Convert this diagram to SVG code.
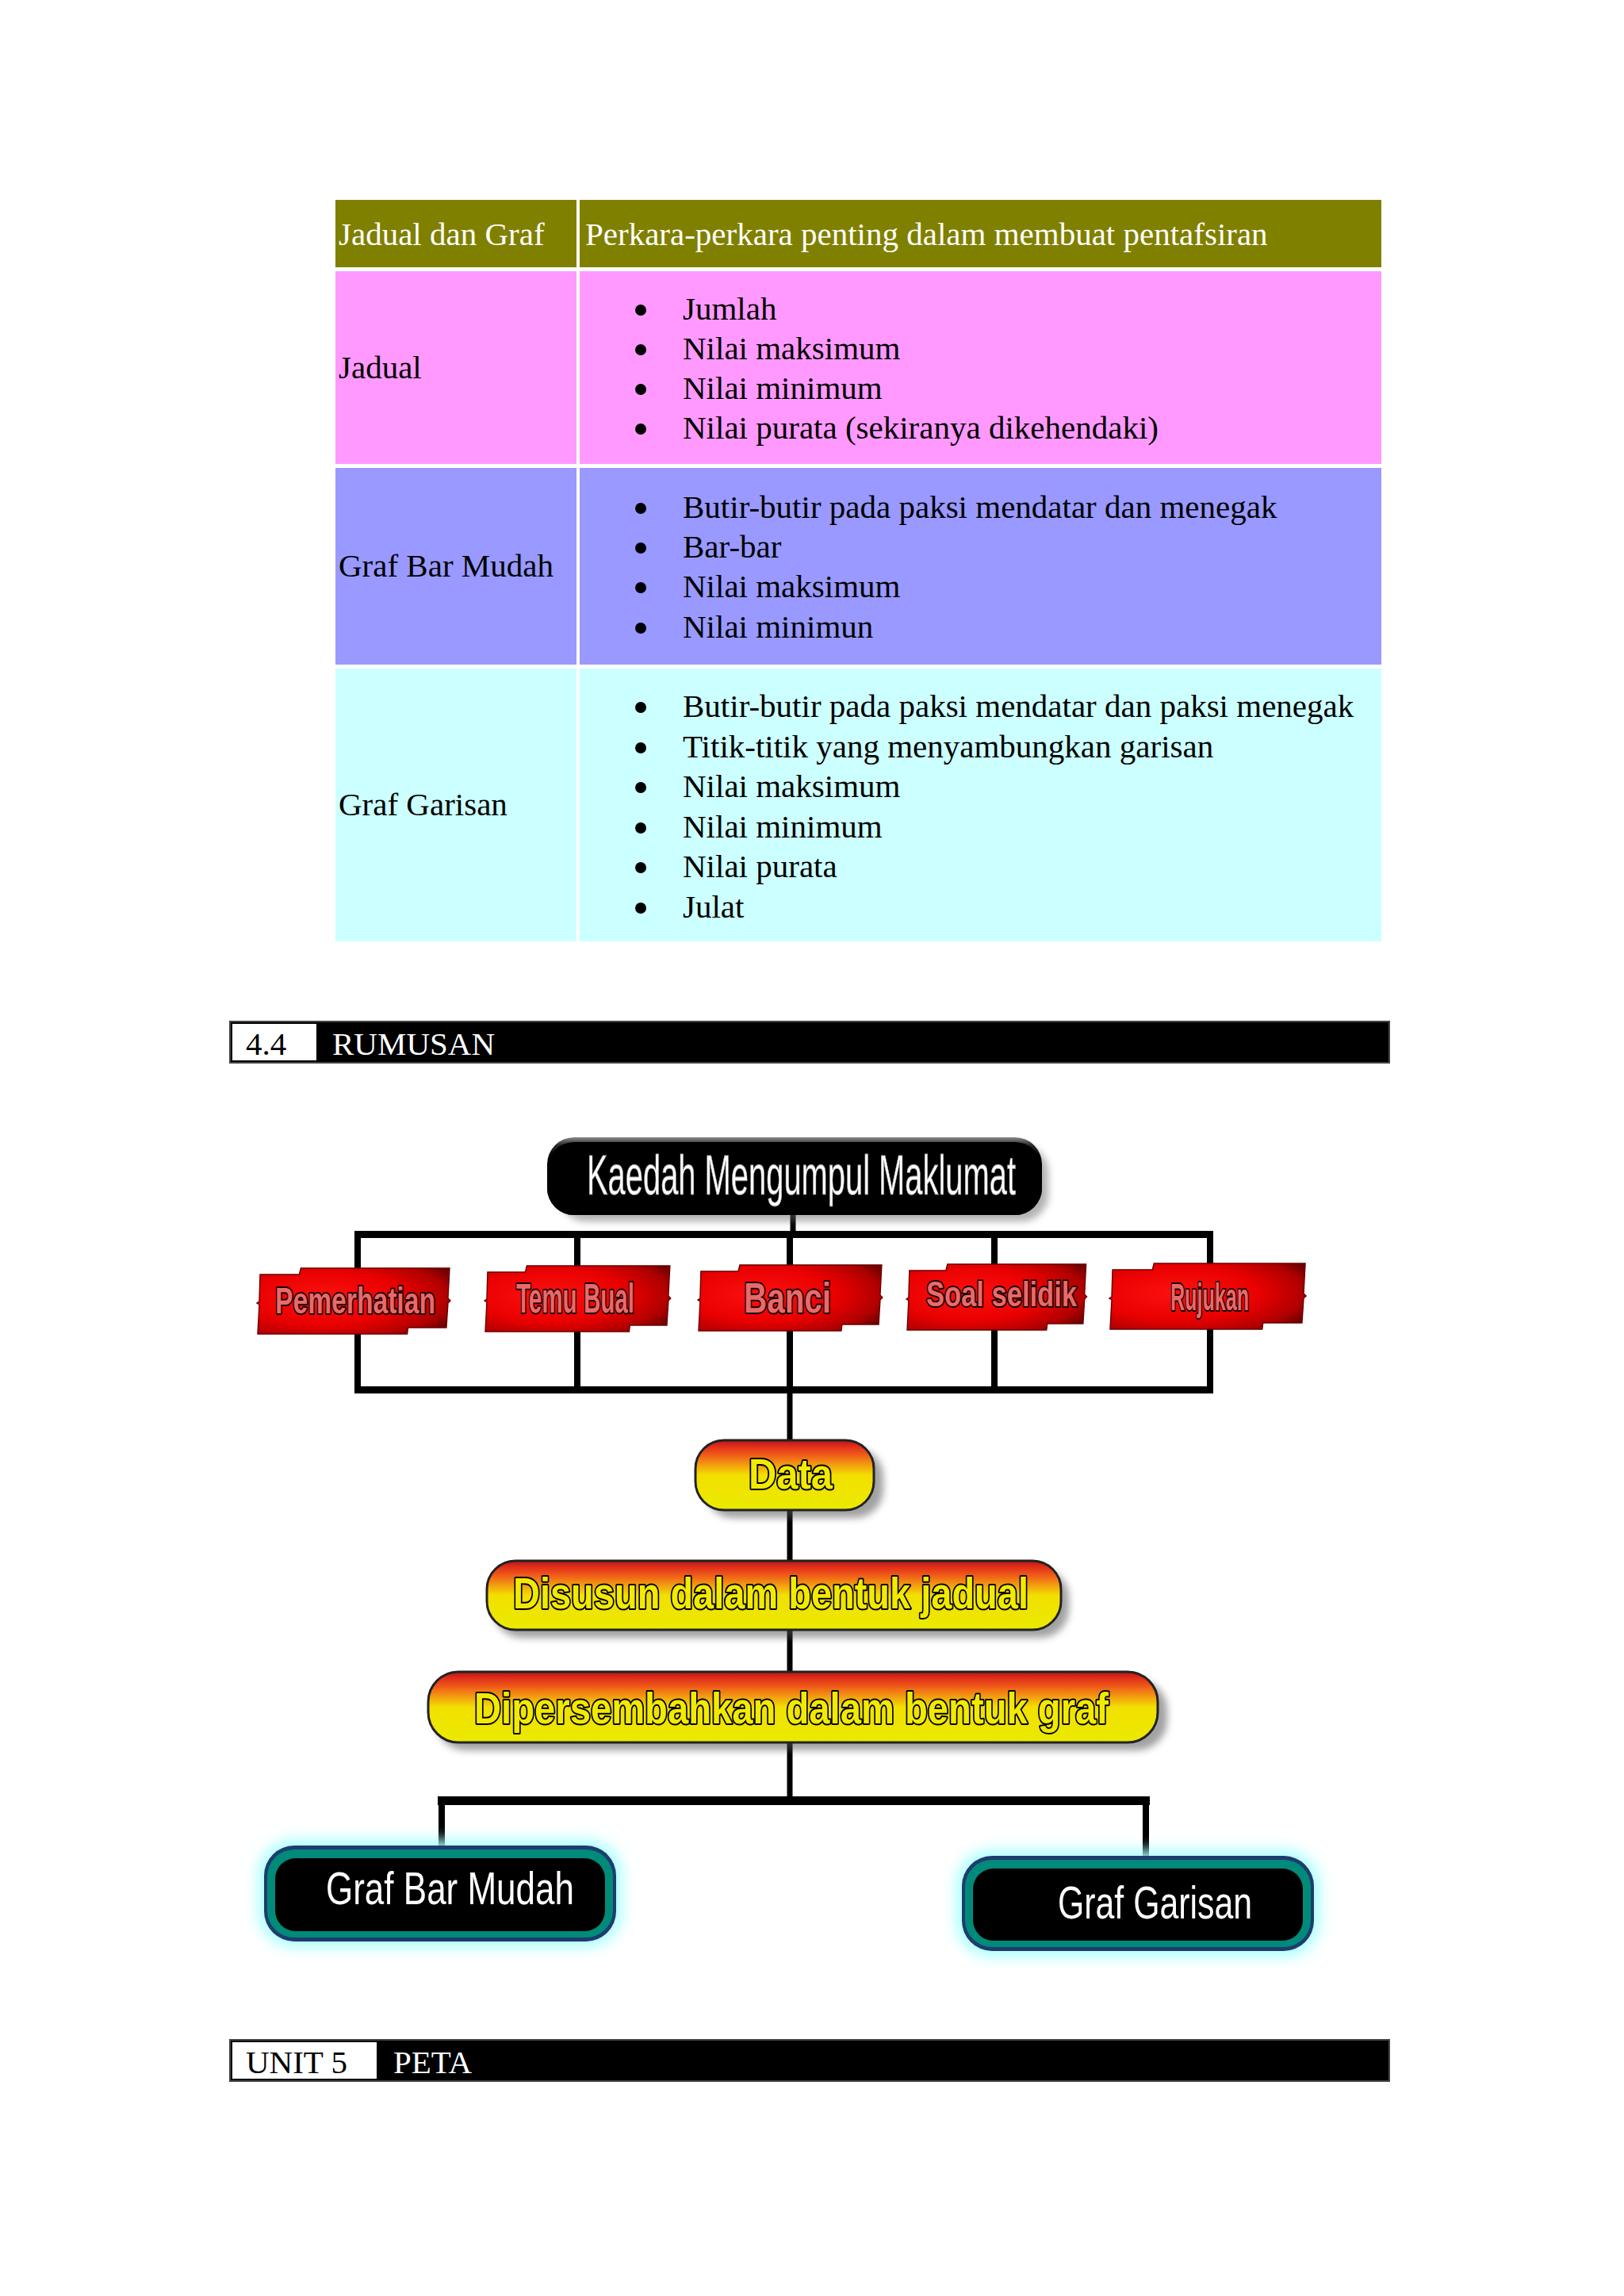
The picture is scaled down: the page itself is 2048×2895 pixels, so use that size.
<svg xmlns="http://www.w3.org/2000/svg" width="2048" height="2895" viewBox="0 0 2048 2895">
<style>
.serif{font-family:"Liberation Serif","Times New Roman",serif;font-size:41px;}
.wt{fill:#ffffff;}
.bk{fill:#000000;}
.dia{font-family:"Liberation Sans Narrow","Liberation Sans",Arial,sans-serif;}
.redtxt{fill:#e86a6a;stroke:#1a0000;stroke-width:4;paint-order:stroke;stroke-linejoin:round;font-weight:bold;}
.yeltxt{fill:#f2ea00;stroke:#000;stroke-width:4;paint-order:stroke;stroke-linejoin:round;font-weight:bold;}
.conn{stroke:#000;fill:none;}
</style>
<defs>
<radialGradient id="redg" cx="0.35" cy="0.45" r="0.75">
<stop offset="0" stop-color="#ff1010"/>
<stop offset="0.55" stop-color="#e80000"/>
<stop offset="0.85" stop-color="#b00000"/>
<stop offset="1" stop-color="#700000"/>
</radialGradient>
<linearGradient id="yelg" x1="0" y1="0" x2="0" y2="1">
<stop offset="0" stop-color="#b01818"/>
<stop offset="0.08" stop-color="#e02a1a"/>
<stop offset="0.22" stop-color="#f06018"/>
<stop offset="0.36" stop-color="#f3a010"/>
<stop offset="0.5" stop-color="#f2e000"/>
<stop offset="1" stop-color="#eaea00"/>
</linearGradient>
<linearGradient id="blackg" x1="0" y1="0" x2="0" y2="1">
<stop offset="0" stop-color="#8a8a8a"/>
<stop offset="0.1" stop-color="#2a2a2a"/>
<stop offset="0.25" stop-color="#000"/>
<stop offset="1" stop-color="#000"/>
</linearGradient>
<filter id="shadow" x="-10%" y="-20%" width="130%" height="160%">
<feGaussianBlur stdDeviation="5"/>
</filter>
<filter id="glow" x="-10%" y="-20%" width="120%" height="140%">
<feGaussianBlur stdDeviation="9"/>
</filter>
<path id="redshape" d="M3,8 L52,8 L54,0 L240,0 L238,38 L241,41 L238,44 L236,75 L188,75 L187,83 L0,83 L2,46 L-1,44 L2,42 Z"/>
</defs>
<rect x="0" y="0" width="2048" height="2895" fill="#ffffff"/>

<!-- Table -->
<g id="table">
<g id="row-header">
<rect x="423" y="252" width="304" height="85" fill="#808000"/>
<rect x="731" y="252" width="1011" height="85" fill="#808000"/>
<text class="serif wt" x="427" y="309">Jadual dan Graf</text>
<text class="serif wt" x="738" y="309">Perkara-perkara penting dalam membuat pentafsiran</text>
</g>
<g id="row-jadual">
<rect x="423" y="342" width="304" height="243" fill="#ff99ff"/>
<rect x="731" y="342" width="1011" height="243" fill="#ff99ff"/>
<text class="serif bk" x="427" y="477">Jadual</text>
<circle cx="808" cy="391" r="7"/><text class="serif bk" x="861" y="403">Jumlah</text>
<circle cx="808" cy="441" r="7"/><text class="serif bk" x="861" y="453">Nilai maksimum</text>
<circle cx="808" cy="491" r="7"/><text class="serif bk" x="861" y="503">Nilai minimum</text>
<circle cx="808" cy="541" r="7"/><text class="serif bk" x="861" y="553">Nilai purata (sekiranya dikehendaki)</text>
</g>
<g id="row-bar">
<rect x="423" y="590" width="304" height="248" fill="#9999ff"/>
<rect x="731" y="590" width="1011" height="248" fill="#9999ff"/>
<text class="serif bk" x="427" y="727">Graf Bar Mudah</text>
<circle cx="808" cy="641" r="7"/><text class="serif bk" x="861" y="653">Butir-butir pada paksi mendatar dan menegak</text>
<circle cx="808" cy="691" r="7"/><text class="serif bk" x="861" y="703">Bar-bar</text>
<circle cx="808" cy="741" r="7"/><text class="serif bk" x="861" y="753">Nilai maksimum</text>
<circle cx="808" cy="792" r="7"/><text class="serif bk" x="861" y="804">Nilai minimun</text>
</g>
<g id="row-garisan">
<rect x="423" y="843" width="304" height="344" fill="#ccffff"/>
<rect x="731" y="843" width="1011" height="344" fill="#ccffff"/>
<text class="serif bk" x="427" y="1028">Graf Garisan</text>
<circle cx="808" cy="892" r="7"/><text class="serif bk" x="861" y="904">Butir-butir pada paksi mendatar dan paksi menegak</text>
<circle cx="808" cy="943" r="7"/><text class="serif bk" x="861" y="955">Titik-titik yang menyambungkan garisan</text>
<circle cx="808" cy="993" r="7"/><text class="serif bk" x="861" y="1005">Nilai maksimum</text>
<circle cx="808" cy="1044" r="7"/><text class="serif bk" x="861" y="1056">Nilai minimum</text>
<circle cx="808" cy="1094" r="7"/><text class="serif bk" x="861" y="1106">Nilai purata</text>
<circle cx="808" cy="1145" r="7"/><text class="serif bk" x="861" y="1157">Julat</text>
</g>
</g>

<!-- Section bar -->
<g id="bar-rumusan">
<rect x="290" y="1288" width="1462" height="52" fill="#000" stroke="#444" stroke-width="2"/>
<rect x="292" y="1290" width="108" height="48" fill="#fff" stroke="#000" stroke-width="2"/>
<text class="serif bk" x="310" y="1330">4.4</text>
<text class="serif wt" x="419" y="1330">RUMUSAN</text>
</g>

<!-- Connectors -->
<g id="connectors">
<line class="conn" x1="1000" y1="1530" x2="1000" y2="1556" stroke-width="7"/>
<rect x="447" y="1552" width="1083" height="9" fill="#000"/>
<rect x="447" y="1748" width="1083" height="9" fill="#000"/>
<line class="conn" x1="451" y1="1556" x2="451" y2="1752" stroke-width="8"/>
<line class="conn" x1="728" y1="1556" x2="728" y2="1752" stroke-width="8"/>
<line class="conn" x1="996" y1="1556" x2="996" y2="1752" stroke-width="8"/>
<line class="conn" x1="1254" y1="1556" x2="1254" y2="1752" stroke-width="8"/>
<line class="conn" x1="1526" y1="1556" x2="1526" y2="1752" stroke-width="8"/>
<line class="conn" x1="996" y1="1752" x2="996" y2="1818" stroke-width="7"/>
<line class="conn" x1="996" y1="1902" x2="996" y2="1970" stroke-width="7"/>
<line class="conn" x1="996" y1="2053" x2="996" y2="2110" stroke-width="7"/>
<line class="conn" x1="996" y1="2195" x2="996" y2="2270" stroke-width="7"/>
<rect x="552" y="2265" width="898" height="11" fill="#000"/>
<line class="conn" x1="557" y1="2270" x2="557" y2="2332" stroke-width="8"/>
<line class="conn" x1="1445" y1="2270" x2="1445" y2="2345" stroke-width="8"/>
</g>

<!-- Top node -->
<g id="node-kaedah">
<rect x="705" y="1444" width="617" height="96" rx="34" fill="#666" opacity="0.5" filter="url(#shadow)"/>
<rect x="690" y="1434" width="624" height="98" rx="34" fill="url(#blackg)"/>
<rect x="690" y="1440" width="624" height="92" rx="34" fill="#000"/>
<text class="dia" x="740" y="1506" font-size="71" fill="#ffffff" stroke="#999" stroke-width="0.8" textLength="541" lengthAdjust="spacingAndGlyphs">Kaedah Mengumpul Maklumat</text>
</g>

<!-- Red nodes -->
<g id="node-pemerhatian">
<use href="#redshape" transform="translate(325,1599) scale(1.008,1)" fill="url(#redg)" stroke="#6a0000" stroke-width="1.5"/>
<text class="dia redtxt" x="347" y="1656" font-size="46" textLength="202" lengthAdjust="spacingAndGlyphs">Pemerhatian</text>
</g>
<g id="node-temubual">
<use href="#redshape" transform="translate(612,1596) scale(0.97,1)" fill="url(#redg)" stroke="#6a0000" stroke-width="1.5"/>
<text class="dia redtxt" x="651" y="1655" font-size="51" textLength="149" lengthAdjust="spacingAndGlyphs">Temu Bual</text>
</g>
<g id="node-banci">
<use href="#redshape" transform="translate(881,1595) scale(0.962,1)" fill="url(#redg)" stroke="#6a0000" stroke-width="1.5"/>
<text class="dia redtxt" x="938" y="1655" font-size="54" textLength="110" lengthAdjust="spacingAndGlyphs">Banci</text>
</g>
<g id="node-soalselidik">
<use href="#redshape" transform="translate(1144,1594) scale(0.94,1)" fill="url(#redg)" stroke="#6a0000" stroke-width="1.5"/>
<text class="dia redtxt" x="1168" y="1647" font-size="44" textLength="190" lengthAdjust="spacingAndGlyphs">Soal selidik</text>
</g>
<g id="node-rujukan">
<use href="#redshape" transform="translate(1400,1593) scale(1.025,1)" fill="url(#redg)" stroke="#6a0000" stroke-width="1.5"/>
<text class="dia redtxt" x="1476" y="1652" font-size="48" textLength="99" lengthAdjust="spacingAndGlyphs">Rujukan</text>
</g>

<!-- Yellow pills -->
<g id="node-data">
<rect x="889" y="1826" width="225" height="88" rx="36" fill="#555" opacity="0.55" filter="url(#shadow)"/>
<rect x="877" y="1816" width="225" height="88" rx="36" fill="url(#yelg)" stroke="#222" stroke-width="3"/>
<text class="dia yeltxt" x="944" y="1877" font-size="54" textLength="106" lengthAdjust="spacingAndGlyphs">Data</text>
</g>
<g id="node-disusun">
<rect x="622" y="1978" width="726" height="87" rx="36" fill="#555" opacity="0.55" filter="url(#shadow)"/>
<rect x="614" y="1968" width="724" height="87" rx="36" fill="url(#yelg)" stroke="#222" stroke-width="3"/>
<text class="dia yeltxt" x="647" y="2028" font-size="56" textLength="650" lengthAdjust="spacingAndGlyphs">Disusun dalam bentuk jadual</text>
</g>
<g id="node-dipersembahkan">
<rect x="549" y="2118" width="923" height="89" rx="38" fill="#555" opacity="0.55" filter="url(#shadow)"/>
<rect x="540" y="2108" width="920" height="89" rx="38" fill="url(#yelg)" stroke="#222" stroke-width="3"/>
<text class="dia yeltxt" x="598" y="2173" font-size="56" textLength="800" lengthAdjust="spacingAndGlyphs">Dipersembahkan dalam bentuk graf</text>
</g>

<!-- Bottom nodes -->
<g id="node-grafbar">
<rect x="326" y="2320" width="458" height="135" rx="44" fill="#a8ffff" filter="url(#glow)"/>
<rect x="333" y="2327" width="444" height="121" rx="38" fill="#1e3c6e"/>
<rect x="337" y="2332" width="436" height="111" rx="34" fill="#008a7a"/>
<rect x="347" y="2343" width="416" height="92" rx="26" fill="#000"/>
<text class="dia" x="411" y="2401" font-size="57" fill="#ffffff" textLength="313" lengthAdjust="spacingAndGlyphs">Graf Bar Mudah</text>
</g>
<g id="node-grafgarisan">
<rect x="1206" y="2333" width="458" height="134" rx="44" fill="#a8ffff" filter="url(#glow)"/>
<rect x="1213" y="2340" width="444" height="120" rx="38" fill="#1e3c6e"/>
<rect x="1217" y="2345" width="436" height="110" rx="34" fill="#008a7a"/>
<rect x="1227" y="2356" width="416" height="91" rx="26" fill="#000"/>
<text class="dia" x="1334" y="2419" font-size="57" fill="#ffffff" textLength="245" lengthAdjust="spacingAndGlyphs">Graf Garisan</text>
</g>

<!-- Footer bar -->
<g id="bar-unit">
<rect x="290" y="2572" width="1462" height="52" fill="#000" stroke="#444" stroke-width="2"/>
<rect x="292" y="2574" width="184" height="48" fill="#fff" stroke="#000" stroke-width="2"/>
<text class="serif bk" x="310" y="2614">UNIT 5</text>
<text class="serif wt" x="496" y="2614">PETA</text>
</g>
</svg>
